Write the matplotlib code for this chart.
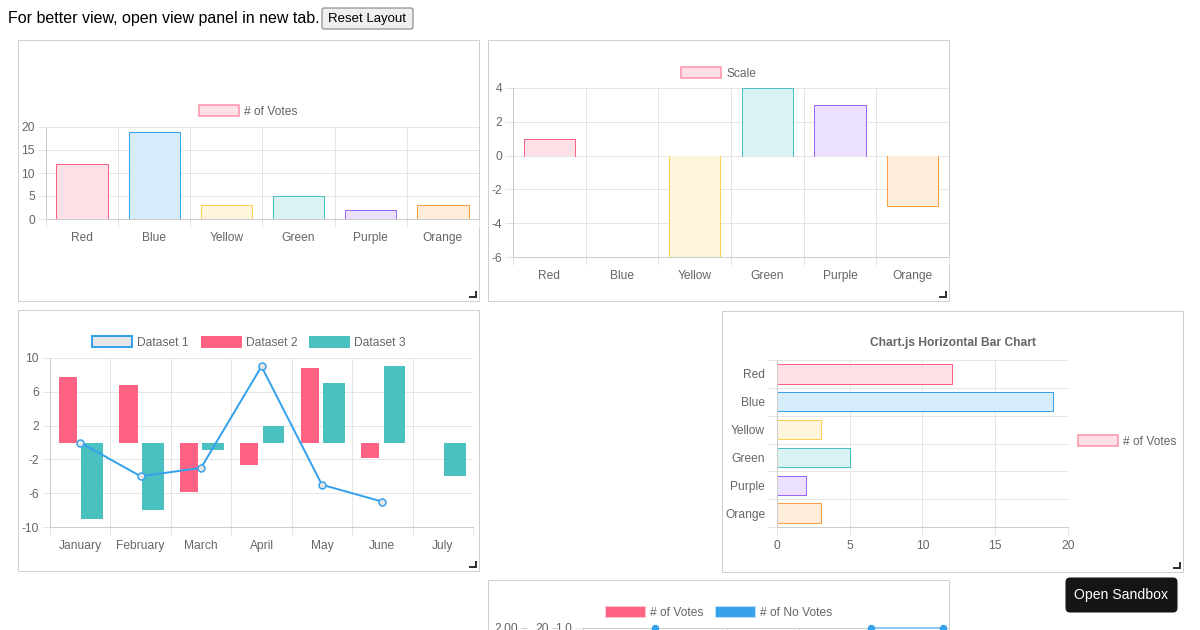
import numpy as np
import matplotlib
matplotlib.use('Agg')
import matplotlib.pyplot as plt
from matplotlib.patches import Rectangle, FancyBboxPatch, Patch
from matplotlib.ticker import FormatStrFormatter

plt.rcParams['font.family'] = ['Liberation Sans', 'DejaVu Sans']
plt.rcParams['axes.unicode_minus'] = False

# ---- data ----
colour_names = ['Red', 'Blue', 'Yellow', 'Green', 'Purple', 'Orange']
votes = [12, 19, 3, 5, 2, 3]
scale = [1, 0, -6, 4, 3, -3]

months = ['January', 'February', 'March', 'April', 'May', 'June', 'July']
dataset1 = [0, -4, -3, 9, -5, -7, np.nan]
dataset2 = [7.8, 6.8, -5.8, -2.7, 8.8, -1.8, 0]
dataset3 = [-9, -8, -0.9, 2, 7, 9, -4]

votes_bottom = [12, 19, 3, 5, 2, 3]
no_votes = [0.3, 1.0, 0.6, 0.4, 1.0, 1.0]

# chart.js sample palette (fill = colour at 0.2 alpha on white)
fills = ['#ffe0e6', '#d7ecfb', '#fff5dd', '#dbf2f2', '#ebe0ff', '#ffecd9']
edges = ['#ff6384', '#36a2eb', '#ffce56', '#4bc0c0', '#9966ff', '#ff9f40']

W, H = 1200, 630
PX = 0.72          # points per pixel at 100 dpi
FS = 12 * PX
GRID = '#e6e6e6'
AXIS = '#cccccc'
TXT = '#666666'

fig = plt.figure(figsize=(12, 6.3), dpi=100)

# page background layer in pixel coordinates
bg = fig.add_axes([0, 0, 1, 1])
bg.set_xlim(0, W)
bg.set_ylim(H, 0)
bg.axis('off')


def box(l, t, r, b):
    return [l / W, 1 - b / H, (r - l) / W, (b - t) / H]


def chart_axes(l, t, r, b):
    ax = fig.add_axes(box(l, t, r, b))
    ax.set_facecolor('none')
    for side in ['top', 'right']:
        ax.spines[side].set_visible(False)
    for side in ['left', 'bottom']:
        ax.spines[side].set_color(AXIS)
        ax.spines[side].set_linewidth(PX)
    ax.tick_params(which='both', color=GRID, width=PX, labelcolor=TXT, labelsize=FS)
    ax.set_axisbelow(True)
    return ax


def category_x(ax, labels, pad=13):
    n = len(labels)
    ax.set_xlim(-0.5, n - 0.5)
    ax.set_xticks(range(n), labels)
    ax.set_xticks(np.arange(n + 1) - 0.5, minor=True)
    ax.tick_params(axis='x', which='major', length=0, pad=pad * PX)
    ax.tick_params(axis='x', which='minor', length=8 * PX)
    ax.grid(True, axis='x', which='minor', color=GRID, lw=PX)


def value_y(ax, lo, hi, step):
    ax.set_ylim(lo, hi)
    ax.set_yticks(np.arange(lo, hi + 1, step))
    ax.tick_params(axis='y', length=8 * PX, pad=3 * PX)
    ax.grid(True, axis='y', which='major', color=GRID, lw=PX)


def bars(ax, vals, width, horizontal=False):
    # chart.js skips the border on the base side of each bar
    for p, v, fc, ec in zip(range(len(vals)), vals, fills, edges):
        if v == 0:
            continue
        lo, hi = p - width / 2, p + width / 2
        if horizontal:
            ax.barh(p, v, height=width, color=fc, lw=0)
            ax.plot([0, v, v, 0], [lo, lo, hi, hi], color=ec, lw=PX, clip_on=False)
        else:
            ax.bar(p, v, width=width, color=fc, lw=0)
            ax.plot([lo, lo, hi, hi], [0, v, v, 0], color=ec, lw=PX, clip_on=False)


def legend(ax, handles, labels, x, y, loc='center'):
    ax.legend(handles, labels, loc=loc, bbox_to_anchor=(x / W, 1 - (y + 1.5) / H),
              bbox_transform=fig.transFigure, ncol=len(handles), frameon=False,
              fontsize=FS, handlelength=40 / 12, handleheight=1.0, handletextpad=5 / 12,
              columnspacing=1.0, borderpad=0, borderaxespad=0, labelcolor=TXT)


def votes_patch():
    return Patch(facecolor=fills[0], edgecolor='#ff90a8', lw=1.5 * PX)


# ---- panel 1: vertical bars ----
ax1 = chart_axes(46, 127, 479, 219)
category_x(ax1, colour_names)
value_y(ax1, 0, 20, 5)
bars(ax1, votes, 0.71)
legend(ax1, [votes_patch()], ['# of Votes'], 248.5, 110)

# ---- panel 2: negative scale ----
ax2 = chart_axes(513, 88, 949, 257)
category_x(ax2, colour_names)
value_y(ax2, -6, 4, 2)
bars(ax2, scale, 0.71)
legend(ax2, [votes_patch()], ['Scale'], 718.5, 72)

# ---- panel 3: combo bar / line ----
ax3 = chart_axes(50, 358, 473, 527)
category_x(ax3, months)
value_y(ax3, -10, 10, 4)
xm = np.arange(len(months))
ax3.bar(xm - 0.2, dataset2, 0.30, color='#ff6384', lw=0)
ax3.bar(xm + 0.2, dataset3, 0.36, color='#4bc0c0', lw=0)
ax3.plot(xm, dataset1, color='#36a2eb', lw=2 * PX, marker='o', ms=7 * PX,
         mfc='#e6e6e6', mec='#36a2eb', mew=1.5 * PX, zorder=4, clip_on=False)
legend(ax3, [Patch(facecolor='#e6e6e6', edgecolor='#36a2eb', lw=2 * PX),
             Patch(facecolor='#ff6384', edgecolor='#ff6384', lw=PX),
             Patch(facecolor='#4bc0c0', edgecolor='#4bc0c0', lw=PX)],
       ['Dataset 1', 'Dataset 2', 'Dataset 3'], 249, 341)

# ---- panel 4: horizontal bars ----
ax4 = chart_axes(777, 360, 1068, 527)
ax4.set_xlim(0, 20)
ax4.set_xticks(range(0, 21, 5))
ax4.tick_params(axis='x', length=8 * PX, pad=5 * PX)
ax4.grid(True, axis='x', color=GRID, lw=PX)
n = len(colour_names)
ax4.set_ylim(n - 0.5, -0.5)
ax4.set_yticks(range(n), colour_names)
ax4.set_yticks(np.arange(n + 1) - 0.5, minor=True)
ax4.tick_params(axis='y', which='major', length=0, pad=12 * PX)
ax4.tick_params(axis='y', which='minor', length=9 * PX)
ax4.grid(True, axis='y', which='minor', color=GRID, lw=PX)
bars(ax4, votes, 0.70, horizontal=True)
legend(ax4, [votes_patch()], ['# of Votes'], 1078, 440, loc='center left')
fig.text(953 / W, 1 - 343 / H, 'Chart.js Horizontal Bar Chart', ha='center', va='center',
         fontsize=FS, fontweight='bold', color=TXT)

# ---- panel 5: multi-axis line (cut off by the page) ----
ax5 = chart_axes(583, 628, 949, 798)
ax5.set_xlim(0, 5 + 6 / 72)
ax5.set_xticks(range(len(no_votes)))
ax5.tick_params(axis='x', length=0, labelbottom=False)
ax5.grid(True, axis='x', color=GRID, lw=PX)
ax5.set_ylim(0, 1.0)
ax5.set_yticks(np.arange(0, 1.01, 0.2))
ax5.yaxis.set_major_formatter(FormatStrFormatter('%.1f'))
ax5.tick_params(axis='y', length=8 * PX, pad=3 * PX)
ax5.grid(True, axis='y', color='#cccccc', lw=PX)

axb = ax5.twinx()
axc = ax5.twinx()
for twin, off, hi, step, fmt in [(axb, 25, 20, 5, '%d'), (axc, 56, 2.0, 0.5, '%.2f')]:
    for s in twin.spines.values():
        s.set_visible(False)
    twin.spines['left'].set_position(('outward', off * PX))
    twin.yaxis.set_ticks_position('left')
    twin.set_ylim(0, hi)
    twin.set_yticks(np.arange(0, hi + step / 2, step))
    twin.yaxis.set_major_formatter(FormatStrFormatter(fmt))
    twin.tick_params(axis='y', length=6 * PX, pad=3 * PX, color='#cccccc',
                     labelcolor=TXT, labelsize=FS)

axb.plot(range(len(votes_bottom)), votes_bottom, color='#ff6384', lw=2 * PX)
ax5.plot(range(len(no_votes)), no_votes, color='#8cc8f2', lw=2 * PX, marker='o',
         ms=6 * PX, mfc='#36a2eb', mec='#36a2eb', clip_on=False, zorder=4)
legend(ax5, [Patch(facecolor='#ff6384', edgecolor='#ffc4d0', lw=PX),
             Patch(facecolor='#36a2eb', edgecolor='#bfe0f7', lw=PX)],
       ['# of Votes', '# of No Votes'], 718.5, 611)

# ---- page chrome ----
for (l, t, r, b) in [(18, 40, 479, 301), (488, 40, 949, 301), (18, 310, 479, 571),
                     (722, 311, 1183, 572), (488, 580, 949, 720)]:
    bg.add_patch(Rectangle((l, t), r - l, b - t, fill=False, ec='#cfcfcf', lw=PX))
    if b < H:
        bg.plot([r - 10, r - 3.5, r - 3.5], [b - 4.5, b - 4.5, b - 10],
                color='#333333', lw=2 * PX, solid_capstyle='butt', solid_joinstyle='miter')

bg.text(8, 18, 'For better view, open view panel in new tab.', fontsize=16 * PX,
        va='center', ha='left', color='black')
bg.add_patch(FancyBboxPatch((322, 8), 91, 21, boxstyle='round,pad=0,rounding_size=2',
                            fc='#efefef', ec='#767676', lw=PX))
bg.text(367.5, 19, 'Reset Layout', fontsize=13.3 * PX, ha='center', va='center', color='black')

bg.add_patch(FancyBboxPatch((1066, 578), 111, 34, boxstyle='round,pad=0,rounding_size=4',
                            fc='#151515', ec='#151515', lw=PX))
bg.text(1121.5, 595.5, 'Open Sandbox', fontsize=14 * PX, ha='center', va='center', color='white')

fig.savefig('out.png', dpi=100)
